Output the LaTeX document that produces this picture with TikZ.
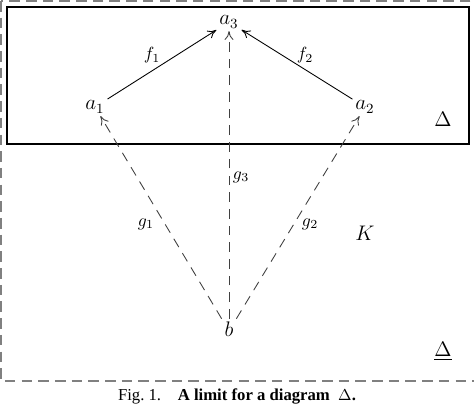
\documentclass[tikz,border=0pt]{standalone}
\usepackage{fontspec}
\newfontfamily\capfont{Liberation Serif}
\usetikzlibrary{arrows.meta}

\begin{document}
\begin{tikzpicture}[x=0.02cm,y=-0.02cm,
    every node/.style={inner sep=1.5pt},
    obj/.style={font=\large},
    map/.style={-{To[length=5pt,width=5pt]}, line width=0.5pt},
    cone/.style={map, dash pattern=on 5.5pt off 4pt, black!75},
    frame/.style={draw, line width=1.2pt}]

  \useasboundingbox (0,0) rectangle (474,406);

  % Cone K (dashed) and diagram Delta (solid)
  \draw [frame, gray, dash pattern=on 6pt off 3.5pt] (1,1) rectangle (490,381);
  \draw [frame] (7,7) rectangle (469,144);

  % Objects
  \node [obj] (a3) at (229,22)  {$a_3$};
  \node [obj] (a1) at (95,107)  {$a_1$};
  \node [obj] (a2) at (365,107) {$a_2$};
  \node [obj] (b)  at (229,329) {$b$};

  % Diagram arrows
  \draw [map] (a1) -- (a3);
  \draw [map] (a2) -- (a3);
  \node (f1) at (152,55) {$f_1$};
  \node (f2) at (305,55) {$f_2$};

  % Cone arrows
  \draw [cone] (b.north west) -- (a1);
  \draw [cone] (b) -- (a3);
  \draw [cone] (b.north east) -- (a2);
  \node (g1) at (146,224) {$g_1$};
  \node (g3) at (241,177) {$g_3$};
  \node (g2) at (310,224) {$g_2$};

  % Names
  \node [obj] (D)  at (443,119) {$\Delta$};
  \node [obj] (K)  at (365,233) {$K$};
  \node [obj] (Du) at (443,351) {$\underline{\Delta}$};

  % Caption
  \node [font=\capfont\fontsize{9.5}{11}\selectfont] (cap) at (237,396)
    {Fig.~1.\quad\textbf{A limit for a diagram}\ \ $\Delta$\textbf{.}};

\end{tikzpicture}
\end{document}
